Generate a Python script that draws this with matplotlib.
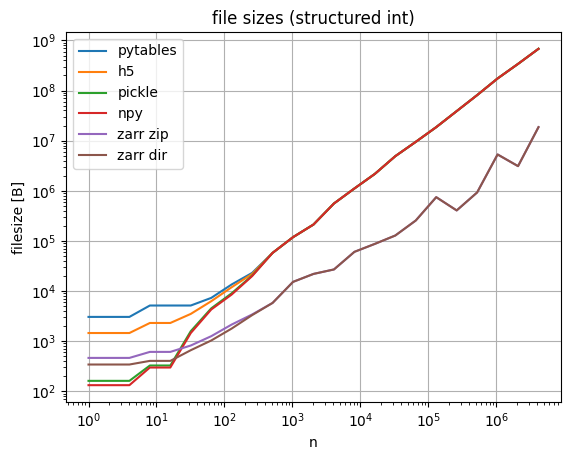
import numpy as np
import matplotlib.pyplot as plt

# n = 2**0 ... 2**22
n = [2 ** k for k in range(23)]

# file sizes in bytes
big = [57600, 118600, 212000, 557000, 1.11e6, 2.17e6, 4.9e6, 9.46e6,
       1.86e7, 3.88e7, 8.1e7, 1.74e8, 3.4e8, 6.8e8]

pytables = [3040, 3040, 3040, 5130, 5130, 5130, 7280, 13500, 22960] + big
h5 = [1450, 1450, 1450, 2300, 2300, 3490, 6250, 11900, 21900] + big
pickle = [161, 161, 161, 326, 326, 1578, 4500, 9000, 20300] + big
npy = [132, 132, 132, 297, 297, 1450, 4270, 8500, 19800] + big

zdir_big = [5780, 15200, 21900, 26900, 60400, 87100, 128000, 255000,
            745000, 405000, 925000, 5.3e6, 3.1e6, 1.86e7]
zarr_zip = [462, 462, 462, 609, 609, 817, 1253, 2140, 3400] + zdir_big
zarr_dir = [341, 341, 341, 403, 403, 658, 1028, 1780, 3300] + zdir_big

series = [("pytables", pytables), ("h5", h5), ("pickle", pickle),
          ("npy", npy), ("zarr zip", zarr_zip), ("zarr dir", zarr_dir)]

fig = plt.figure(figsize=(5.7, 4.59), dpi=100)
ax = fig.add_subplot(1, 1, 1)
fig.subplots_adjust(left=0.1158, right=0.9842, top=0.9303, bottom=0.1242)

for label, sizes in series:
    ax.plot(n, sizes, label=label)

ax.set_xscale('log')
ax.set_yscale('log')
ax.grid(True)
ax.legend(loc='upper left')

plt.xlabel('n')
plt.ylabel('filesize [B]')
plt.title('file sizes (structured int)')

plt.savefig('out.png')
